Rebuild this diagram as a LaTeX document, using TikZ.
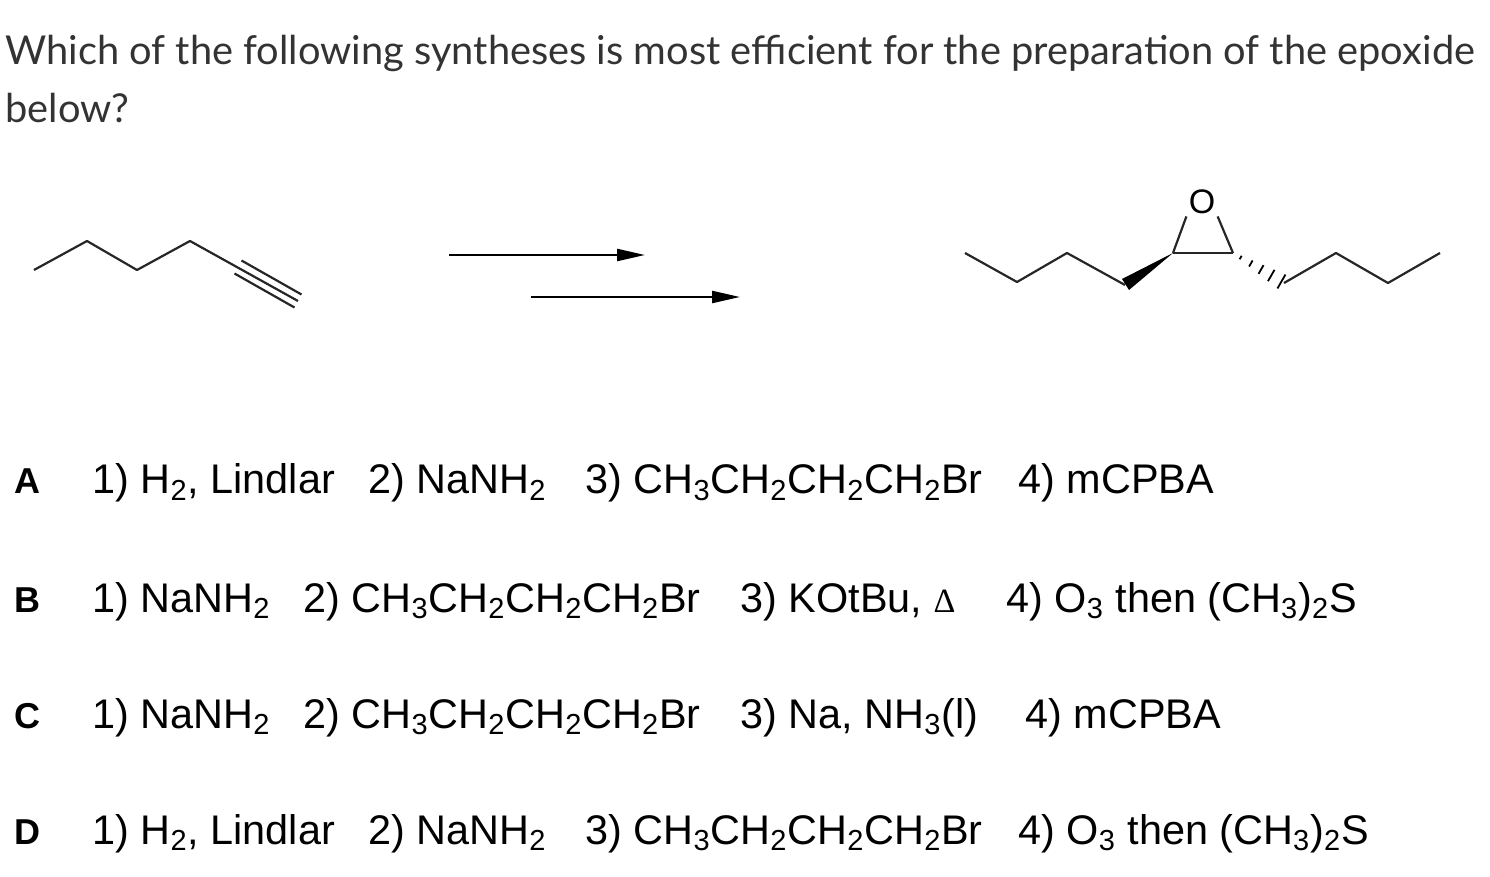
\documentclass[tikz,border=0pt]{standalone}
\usepackage{fontspec}
\setmainfont{Liberation Sans}
\newfontfamily\latofont{Lato}
\usetikzlibrary{arrows.meta,calc}
\tikzset{bond/.style={line width=1.1pt,black!85,line join=round},
 rx/.style={line width=1.2pt,-{Triangle[length=14pt,width=6pt]}},
 ttl/.style={anchor=base west,inner sep=0,font=\latofont\fontsize{19.9}{24}\selectfont,text=black!80},
 opt/.style={anchor=base west,inner sep=0,font=\fontsize{20.7}{24}\selectfont},
 lbl/.style={anchor=base west,inner sep=0,font=\bfseries\fontsize{18}{22}\selectfont}}
\newcommand{\sbs}[1]{\textsubscript{#1}}
\begin{document}
\begin{tikzpicture}[x=0.5pt,y=-0.5pt]
\useasboundingbox (0,0) rectangle (1490,877);
\node[ttl] (t1) at (5,65) {Which of the following syntheses is most efficient for the preparation of the epoxide};
\node[ttl] (t2) at (5,123) {below?};
% alkyne
\coordinate (a1) at (34,270); \coordinate (a2) at (87,241); \coordinate (a3) at (137,270);
\coordinate (a4) at (190,241); \coordinate (a5) at (298,301); \coordinate (a6) at (238,267);
\draw[bond] (a1)--(a2)--(a3)--(a4)--(a5);
\draw[bond] ($(a6)+(3.5,-6.5)$)--($(a5)+(3.5,-6.5)$);
\draw[bond] ($(a6)+(-3.5,6.5)$)--($(a5)+(-3.5,6.5)$);
% arrows
\coordinate (r1) at (449,255); \coordinate (r2) at (645,255);
\coordinate (r3) at (531,297); \coordinate (r4) at (740,297);
\draw[rx] (r1)--(r2); \draw[rx] (r3)--(r4);
% epoxide
\coordinate (e1) at (965,253); \coordinate (e2) at (1017,282); \coordinate (e3) at (1067,253);
\coordinate (e4) at (1125,285); \coordinate (c1) at (1173,253); \coordinate (c2) at (1233,253);
\node[inner sep=1pt,font=\fontsize{17}{18}\selectfont] (ox) at (1202,202) {O};
\coordinate (f1) at (1284,283); \coordinate (f2) at (1336,253); \coordinate (f3) at (1388,283); \coordinate (f4) at (1440,253);
\draw[bond] (e1)--(e2)--(e3)--(e4);
\fill[black] (c1) -- ($(e4)+(-3,-6)$) -- ($(e4)+(4,5)$) -- cycle;
\draw[bond] (c1)--(c2);
\draw[bond] (c1)--(ox.south west);
\draw[bond] (c2)--(ox.south east);
\foreach \t/\w in {0.15/2,0.35/3.5,0.55/5,0.75/6.5,0.95/8}{
 \draw[line width=0.9pt] ($(c2)!\t!(f1)+(\w*0.5,-\w*0.87)$)--($(c2)!\t!(f1)+(-\w*0.5,\w*0.87)$);}
\draw[bond] (f1)--(f2)--(f3)--(f4);
% options
\node[lbl] (la) at (14,494) {A};
\node[opt] (a1t) at (92,494) {1) H\sbs{2}, Lindlar};
\node[opt] (a2t) at (368,494) {2) NaNH\sbs{2}};
\node[opt] (a3t) at (585,494) {3) CH\sbs{3}CH\sbs{2}CH\sbs{2}CH\sbs{2}Br};
\node[opt] (a4t) at (1018,494) {4) mCPBA};
\node[lbl] (lb) at (14,612) {B};
\node[opt] (b1t) at (92,612) {1) NaNH\sbs{2}};
\node[opt] (b2t) at (303,612) {2) CH\sbs{3}CH\sbs{2}CH\sbs{2}CH\sbs{2}Br};
\node[opt] (b3t) at (740,612) {3) KOtBu, {\fontspec{Liberation Serif}\fontsize{17}{18}\selectfont Δ}};
\node[opt] (b4t) at (1006,612) {4) O\sbs{3} then (CH\sbs{3})\sbs{2}S};
\node[lbl] (lc) at (14,728) {C};
\node[opt] (c1t) at (92,728) {1) NaNH\sbs{2}};
\node[opt] (c2t) at (303,728) {2) CH\sbs{3}CH\sbs{2}CH\sbs{2}CH\sbs{2}Br};
\node[opt] (c3t) at (740,728) {3) Na, NH\sbs{3}(l)};
\node[opt] (c4t) at (1025,728) {4) mCPBA};
\node[lbl] (ld) at (14,844) {D};
\node[opt] (d1t) at (92,844) {1) H\sbs{2}, Lindlar};
\node[opt] (d2t) at (368,844) {2) NaNH\sbs{2}};
\node[opt] (d3t) at (585,844) {3) CH\sbs{3}CH\sbs{2}CH\sbs{2}CH\sbs{2}Br};
\node[opt] (d4t) at (1018,844) {4) O\sbs{3} then (CH\sbs{3})\sbs{2}S};
\end{tikzpicture}
\end{document}
